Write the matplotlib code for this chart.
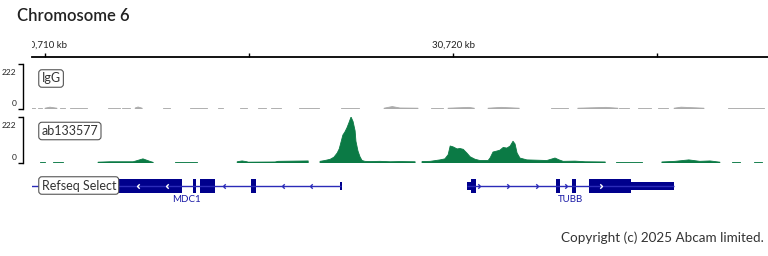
import numpy as np
import matplotlib
matplotlib.use("Agg")
import matplotlib.pyplot as plt
from matplotlib.path import Path
from matplotlib.patches import Rectangle

plt.rcParams['font.family'] = ['Lato', 'DejaVu Sans']

# ---------------- data ----------------
chrom_title = "Chromosome 6"
view_kb = (30709.68, 30727.72)
ruler_ticks_kb = [30710, 30715, 30720, 30725]
ruler_label_kb = [30710, 30720]
ruler_label_txt = ["30,710 kb", "30,720 kb"]
track_names = ["IgG", "ab133577"]
track_max = 222
copyright_txt = "Copyright (c) 2025 Abcam limited."

nan = np.nan
# IgG coverage (kb offset from 30,700 kb); nan = no data
igg_off = [9.63, 9.75, 9.76, 9.83, 9.93, 9.95, 10.00, 10.12, 10.29, 10.30,
           10.37, 10.49, 10.50, 10.61, 11.03, 11.10, 11.54, 11.84, 11.86,
           11.89, 12.08, 12.10, 12.21, 12.28, 12.38, 12.40, 12.89, 13.06, 13.10,
           13.55, 13.97, 14.00, 14.24, 14.36, 14.40, 14.78, 14.95, 15.00,
           15.22, 15.42, 15.45, 15.54, 15.78, 15.80, 16.23, 16.72, 16.80,
           17.26, 17.70, 17.80, 18.31, 18.51, 18.70, 19.14, 19.20, 19.46, 19.76,
           19.80, 19.88, 20.39, 20.52, 20.60, 20.86, 21.18, 21.62, 21.70,
           22.40, 22.82, 22.90, 23.06, 23.75, 24.04, 24.05, 24.07, 24.31, 24.40,
           24.53, 24.85, 24.90, 25.02, 25.27, 25.30, 25.42, 25.59, 26.15, 26.20,
           26.74, 27.62]
igg_val = [4, 4, nan, 3, 3, nan, 4, 9, 4, nan,
           3, 3, nan, 4, 4, nan, 4, 4, nan,
           4, 4, nan, 5, 10, 4, nan, 4, 4, nan,
           4, 4, nan, 3, 3, nan, 4, 4, nan,
           4, 4, nan, 4, 4, nan, 4, 4, nan,
           4, 4, nan, 4, 12, 5, 4, nan, 4, 4,
           nan, 4, 8, 4, nan, 4, 8, 4, nan,
           4, 4, nan, 4, 8, 4, nan, 4, 4, nan,
           4, 4, nan, 4, 4, nan, 4, 9, 4, nan,
           4, 4]

# ab133577 coverage (kb offset from 30,700 kb)
ab_off = [9.88, 10.00, 10.10, 10.20, 10.44, 10.60,
          11.30, 11.59, 12.16, 12.23, 12.40, 12.57, 12.65, 12.80,
          13.19, 13.73, 13.90,
          14.71, 14.83, 14.95, 14.98, 15.64, 15.71, 16.45, 16.60,
          16.74, 16.86, 16.99, 17.08, 17.16, 17.21, 17.26, 17.30, 17.35, 17.40,
          17.45, 17.50, 17.55, 17.60, 17.62, 17.67, 17.72, 17.77, 17.84, 17.97,
          18.21, 18.46, 18.70, 19.07, 19.15,
          19.24, 19.44, 19.68, 19.80, 19.88, 19.93, 20.00, 20.10, 20.17, 20.25,
          20.34, 20.42, 20.54, 20.66, 20.86, 20.91, 20.98, 21.08, 21.15, 21.23,
          21.32, 21.40, 21.47, 21.52, 21.57, 21.64, 21.81, 22.30, 22.40, 22.50,
          22.60, 22.70, 22.99, 23.24, 23.73, 23.85,
          23.99, 24.63, 24.80,
          25.12, 25.44, 25.78, 26.05, 26.30, 26.54, 26.70,
          26.84, 27.03, 27.20, 27.38, 27.57]
ab_val = [3, 3, nan, 3, 3, nan,
          4, 6, 6, 10, 20, 8, 3, nan,
          4, 4, nan,
          6, 10, 6, 4, 5, 8, 10, nan,
          8, 12, 18, 28, 48, 68, 105, 135, 150, 170,
          195, 222, 200, 155, 105, 58, 30, 12, 8, 7,
          8, 6, 7, 6, nan,
          7, 8, 15, 20, 40, 82, 78, 68, 70, 66,
          48, 30, 18, 12, 12, 25, 53, 58, 62, 75,
          72, 82, 105, 92, 48, 24, 15, 12, 18, 24,
          15, 8, 9, 6, 5, nan,
          3, 3, nan,
          5, 8, 15, 8, 10, 4, nan,
          3, 3, nan, 3, 3]

# genes (kb offset from 30,700 kb)
gene_names = ["MDC1", "TUBB"]
gene_label_off = [13.46, 22.89]
mdc1_span = (9.50, 17.26)
mdc1_exons = [(11.35, 13.36), (13.63, 13.70), (13.80, 14.17), (15.05, 15.17)]
mdc1_utr = [(17.22, 17.28)]
mdc1_intron_arrows = [14.36, 15.81, 16.49]
mdc1_exon_arrows = [12.25, 12.96]
tubb_span = (20.34, 25.42)
tubb_exons = [(20.44, 20.56), (22.52, 22.62), (22.92, 23.01), (23.33, 24.36)]
tubb_utr = [(20.34, 20.44), (24.36, 25.42)]
tubb_intron_arrows = [20.66, 21.37, 22.08, 22.79]
tubb_exon_arrows = [23.65]

# ---------------- styling / layout ----------------
W, H = 768, 256
fig = plt.figure(figsize=(W / 100, H / 100), dpi=100)
GREEN = '#0b7a45'
GRAY = '#ababab'
NAVY = '#00008c'
LINEBLUE = '#2b2bb8'
TXT = '#333333'


def ax_px(l, t, r, b):
    return fig.add_axes([l / W, 1 - b / H, (r - l) / W, (b - t) / H])


def kb(off):
    return 30700 + np.asarray(off, dtype=float)


fig.text(17 / W, 1 - 16 / H, chrom_title, fontsize=12, fontweight='semibold',
         color='#222222', ha='left', va='center')

# ruler
rax = ax_px(32, 34, 768, 57)
rax.set_xlim(*view_kb)
rax.set_ylim(0, 1)
for s in ['top', 'left', 'right']:
    rax.spines[s].set_visible(False)
rax.spines['bottom'].set_linewidth(1.3)
rax.set_yticks([])
rax.set_xticks(ruler_ticks_kb)
rax.tick_params(axis='x', direction='in', length=3, width=1, labelbottom=False)
for x, t in zip(ruler_label_kb, ruler_label_txt):
    rax.text(x, 0.5, t, transform=rax.get_xaxis_transform(), ha='center',
             va='center', fontsize=7, color='#222222', clip_on=True)

# data tracks
tracks = [(64, 109, igg_off, igg_val, GRAY), (117, 163, ab_off, ab_val, GREEN)]
for (top, bot, off, val, col) in tracks:
    ax = ax_px(32, top, 768, bot)
    ax.set_xlim(*view_kb)
    ax.set_ylim(0, track_max)
    for s in ['top', 'right', 'bottom']:
        ax.spines[s].set_visible(False)
    ax.spines['left'].set_position(('outward', 6.5))
    ax.spines['left'].set_linewidth(1)
    ax.set_xticks([])
    ax.set_yticks([0, track_max])
    ax.tick_params(axis='y', direction='out', length=3.5, width=1, labelleft=False)
    v = np.array(val, dtype=float)
    ax.fill_between(kb(off), 0, v, color=col, lw=0.6, edgecolor=col)
    ax.annotate(str(track_max), xy=(-0.0231, track_max), xycoords=ax.get_yaxis_transform(),
                xytext=(1, -3.6), textcoords='offset points', ha='right', va='top',
                fontsize=6, color='#222222', annotation_clip=False)
    ax.annotate("0", xy=(-0.0231, 0), xycoords=ax.get_yaxis_transform(),
                xytext=(1, 1.4), textcoords='offset points', ha='right', va='bottom',
                fontsize=6, color='#222222', annotation_clip=False)

# gene track
gax = ax_px(32, 170, 768, 202)
gax.set_xlim(*view_kb)
gax.set_ylim(-16, 16)
gax.axis('off')

chev_l = Path([(1, 1), (0, 0), (1, -1)], [Path.MOVETO, Path.LINETO, Path.LINETO])
chev_r = Path([(-1, 1), (0, 0), (-1, -1)], [Path.MOVETO, Path.LINETO, Path.LINETO])

genes = [(mdc1_span, mdc1_exons, mdc1_utr, mdc1_intron_arrows, mdc1_exon_arrows, chev_l),
         (tubb_span, tubb_exons, tubb_utr, tubb_intron_arrows, tubb_exon_arrows, chev_r)]
for span, exons, utrs, iarr, earr, chev in genes:
    s0, s1 = kb(span)
    gax.plot([s0, s1], [0, 0], color=LINEBLUE, lw=1, solid_capstyle='butt')
    for a, b in exons:
        gax.add_patch(Rectangle((kb(a), -7), kb(b) - kb(a), 14, color=NAVY, lw=0))
    for a, b in utrs:
        gax.add_patch(Rectangle((kb(a), -4), kb(b) - kb(a), 8, color=NAVY, lw=0))
    gax.plot(kb(iarr), np.zeros(len(iarr)), ls='none', marker=chev, markersize=3.2,
             markerfacecolor='none', markeredgecolor=LINEBLUE, markeredgewidth=1)
    gax.plot(kb(earr), np.zeros(len(earr)), ls='none', marker=chev, markersize=3.2,
             markerfacecolor='none', markeredgecolor='white', markeredgewidth=1, zorder=5)

for name, x in zip(gene_names, gene_label_off):
    gax.text(kb(x), -13.5, name, ha='center', va='center', fontsize=7,
             color='#1a1aa6', clip_on=False)

# track name boxes
box = dict(boxstyle='round,pad=0.22,rounding_size=0.25', fc='white', ec='#555555', lw=0.8)
for name, yc in zip(track_names + ["Refseq Select"], [78.5, 131, 185.5]):
    fig.text(41.5 / W, 1 - yc / H, name, fontsize=9, color=TXT, ha='left',
             va='center', bbox=box, zorder=10)

fig.text(764 / W, 1 - 238 / H, copyright_txt, fontsize=9.7, color=TXT,
         ha='right', va='center')

fig.savefig("out.png", dpi=100)
